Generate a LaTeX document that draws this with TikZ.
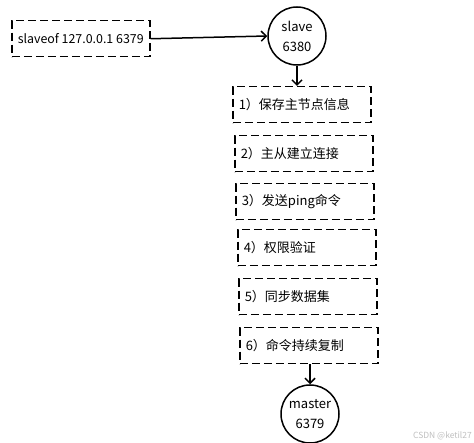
\documentclass[tikz,border=0pt]{standalone}
\usepackage{fontspec}
\setmainfont{Noto Sans CJK SC}
\usetikzlibrary{arrows.meta}
\begin{document}
\begin{tikzpicture}[x=1pt,y=-1pt,
  font=\fontsize{13}{20}\selectfont,
  dashline/.style={draw, line width=1.5pt, dash pattern=on 8pt off 4pt},
  dbox/.style={dashline, minimum height=36pt, inner xsep=6pt, inner ysep=0pt, text width=126pt, align=left, anchor=north west},
  cmdbox/.style={dashline, minimum height=36pt, minimum width=138pt, inner xsep=2pt, inner ysep=0pt, anchor=north west, font=\fontsize{12.4}{20}\selectfont},
  cnode/.style={draw, circle, line width=1.5pt, minimum size=58pt, inner sep=0pt, align=center},
  arr/.style={line width=1.5pt, -{Straight Barb[length=5pt,width=10pt]}}]
\useasboundingbox (0,0) rectangle (474,443);
\node[cmdbox] (cmd) at (11,20) {slaveof 127.0.0.1 6379};
\node[cnode] (slave) at (297,36) {slave\\6380};
\node[dbox] (s1) at (232,86) {1）保存主节点信息};
\node[dbox] (s2) at (234,135) {2）主从建立连接};
\node[dbox] (s3) at (235,183) {3）发送ping命令};
\node[dbox] (s4) at (237,229) {4）权限验证};
\node[dbox] (s5) at (238,278) {5）同步数据集};
\node[dbox] (s6) at (239,327) {6）命令持续复制};
\node[cnode] (master) at (310,414) {master\\6379};
\draw[arr] (cmd.east) -- (slave.west);
\draw[arr] (slave.south) -- (slave.south |- s1.north);
\draw[arr] (master.north |- s6.south) -- (master.north);
\node[text=black!25, font=\fontsize{8.5}{9}\selectfont, anchor=south east, inner sep=1pt] (wm) at (473,441) {CSDN @ketil27};
\end{tikzpicture}
\end{document}
